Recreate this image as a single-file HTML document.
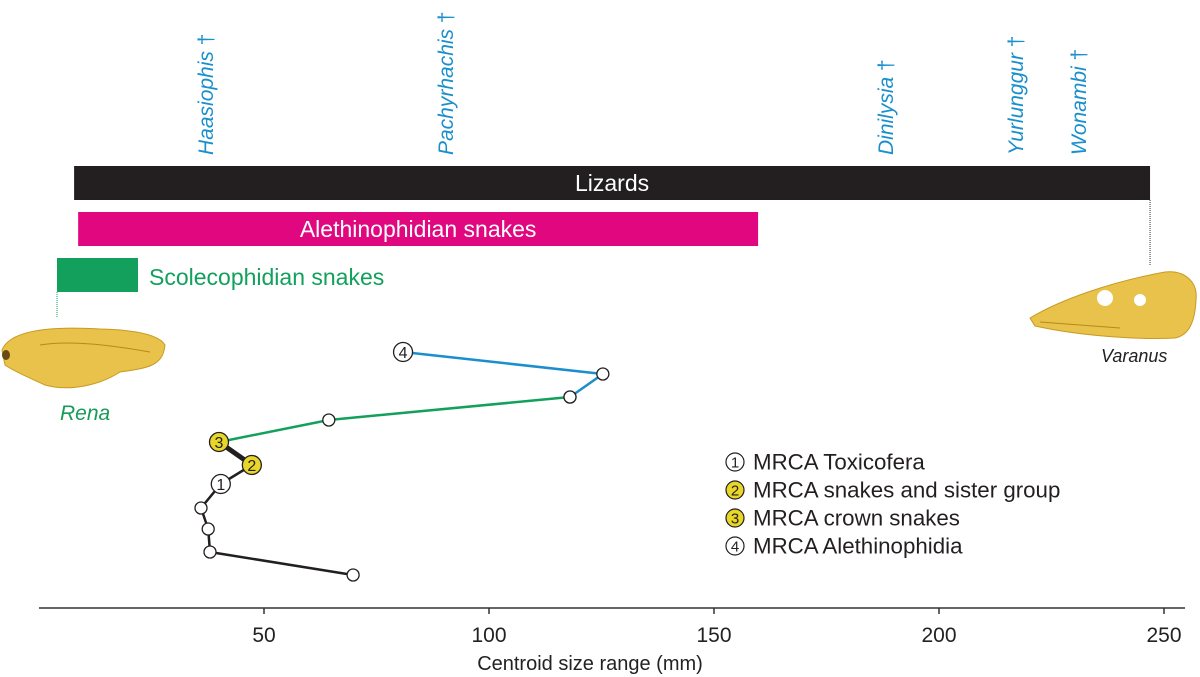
<!DOCTYPE html>
<html><head><meta charset="utf-8"><style>
body{margin:0;background:#fff;}
svg{display:block;font-family:"Liberation Sans",sans-serif;}
</style></head><body>
<svg id="c" width="1200" height="677">
<g>
<path d="M2,350 C10,330 50,326 100,329 C140,330 160,336 165,345 C163,365 150,368 120,372 C100,385 70,392 45,385 C30,378 15,372 5,365 Z" fill="#e8c24a" stroke="#c99a20" stroke-width="1"/>
<path d="M40,345 C70,340 110,345 150,352" stroke="#b58a1c" fill="none"/>
<ellipse cx="6" cy="355" rx="4" ry="5" fill="#6a4a10"/>
</g>
<text x="60" y="420" font-size="21" font-style="italic" fill="#1a9a5a">Rena</text>
<g>
<path d="M1030,318 C1060,300 1110,282 1165,272 C1185,270 1198,282 1196,300 C1195,320 1190,335 1175,338 C1140,340 1080,336 1035,326 Z" fill="#e8c24a" stroke="#c99a20" stroke-width="1"/>
<circle cx="1105" cy="298" r="8" fill="#fff"/><circle cx="1140" cy="300" r="6" fill="#fff"/>
<path d="M1040,322 L1120,328" stroke="#b58a1c"/>
</g>
<text x="1101" y="362" font-size="18" font-style="italic" fill="#222">Varanus</text>
</svg>
<script>
const ticks=[50,100,150,200,250];
const taxa=["Haasiophis","Pachyrhachis","Dinilysia","Yurlunggur","Wonambi"];
const taxaX=[36.9,90.2,188,216.9,230.9];
const barNames=["Lizards","Alethinophidian snakes","Scolecophidian snakes"];
const barStart=[7.8,8.7,4];
const barEnd=[246.9,159.8,22];
const blackX=[69.8,38,37.6,36,40.4,47.3];
const blackY=[3.3,5.6,7.9,10,12.4,14.3];
const thickX=[47.3,40];
const thickY=[14.3,16.6];
const greenX=[40,64.4,118];
const greenY=[16.6,18.8,21.1];
const blueX=[118,125.3,80.9];
const blueY=[21.1,23.4,25.6];
const nodeX=[40.4,47.3,40,80.9];
const nodeY=[12.4,14.3,16.6,25.6];
const legend=["MRCA Toxicofera","MRCA snakes and sister group","MRCA crown snakes","MRCA Alethinophidia"];

const svg=document.getElementById('c');
const NS="http://www.w3.org/2000/svg";
const X=v=>39+v*4.5, Y=v=>608-v*10;
function mk(t,a){const e=document.createElementNS(NS,t);for(const k in a)e.setAttribute(k,a[k]);svg.appendChild(e);return e;}
let ax=mk('line',{x1:39,x2:1185,y1:608,y2:608,stroke:'#333','stroke-width':1.5});


ticks.forEach(t=>{
 let l=mk('line',{x1:X(t),x2:X(t),y1:608,y2:614,stroke:'#333','stroke-width':1.5});
 
 
 let tx=mk('text',{x:X(t),y:642,'font-size':21,'text-anchor':'middle',fill:'#222'});tx.textContent=t;
 
 
});
let at=mk('text',{x:590,y:670,'font-size':20,'text-anchor':'middle',fill:'#222'});at.textContent="Centroid size range (mm)";


taxa.forEach((n,i)=>{
 let t=mk('text',{x:0,y:0,transform:`translate(${X(taxaX[i])+8},155) rotate(-90)`,'font-size':21,fill:'#1a8fcc'});
 t.innerHTML=`<tspan font-style="italic">${n}</tspan> †`;
 
 
});
const barY=[166,212,258],barC=['#231f20','#e0077f','#12a05c'];
barNames.forEach((n,i)=>{
 let r=mk('rect',{x:X(barStart[i]),y:barY[i],width:X(barEnd[i])-X(barStart[i]),height:34,fill:barC[i]});
 
 
 let t;
 if(i<2){t=mk('text',{x:(X(barStart[i])+X(barEnd[i]))/2,y:barY[i]+25,'font-size':23,'text-anchor':'middle',fill:'#fff'});}
 else{t=mk('text',{x:X(barEnd[i])+11,y:barY[i]+27,'font-size':23,fill:'#12a05c'});}
 t.textContent=n;
 
 
});
let d1=mk('line',{x1:X(barStart[2]),x2:X(barStart[2]),y1:292,y2:318,stroke:'#12a05c','stroke-dasharray':'1,1'});


let d2=mk('line',{x1:X(barEnd[0]),x2:X(barEnd[0]),y1:200,y2:265,stroke:'#333','stroke-dasharray':'1,1'});


function line(xs,ys,c,w,name){
 let p=mk('polyline',{points:xs.map((x,i)=>X(x)+','+Y(ys[i])).join(' '),fill:'none',stroke:c,'stroke-width':w});
 
 
}
line(blackX,blackY,'#231f20',2.5,'black-series');
line(thickX,thickY,'#231f20',5,'thick-series');
line(greenX,greenY,'#12a05c',2.5,'green-series');
line(blueX,blueY,'#1a8fcc',2.5,'blue-series');
const allX=[...blackX,...greenX,...blueX],allY=[...blackY,...greenY,...blueY];
allX.forEach((x,i)=>{
 let c=mk('circle',{cx:X(x),cy:Y(allY[i]),r:6,fill:'#fff',stroke:'#231f20','stroke-width':1.3});
 
 
});
const nodeFill=['#fff','#e8d62a','#e8d62a','#fff'];
nodeX.forEach((x,i)=>{
 let c=mk('circle',{cx:X(x),cy:Y(nodeY[i]),r:9.5,fill:nodeFill[i],stroke:'#231f20','stroke-width':1.3});
 
 
 let t=mk('text',{x:X(x),y:Y(nodeY[i])+6,'font-size':16,'text-anchor':'middle',fill:'#231f20'});t.textContent=i+1;
 
 
});
legend.forEach((n,i)=>{
 const y=462+i*28;
 let c=mk('circle',{cx:735,cy:y,r:9,fill:nodeFill[i],stroke:'#231f20','stroke-width':1.2});
 
 
 let k=mk('text',{x:735,y:y+5.5,'font-size':15,'text-anchor':'middle',fill:'#231f20'});k.textContent=i+1;
 
 
 let t=mk('text',{x:753,y:y+7.5,'font-size':22.3,fill:'#231f20'});t.textContent=n;
 
 
});
</script>
</body></html>
